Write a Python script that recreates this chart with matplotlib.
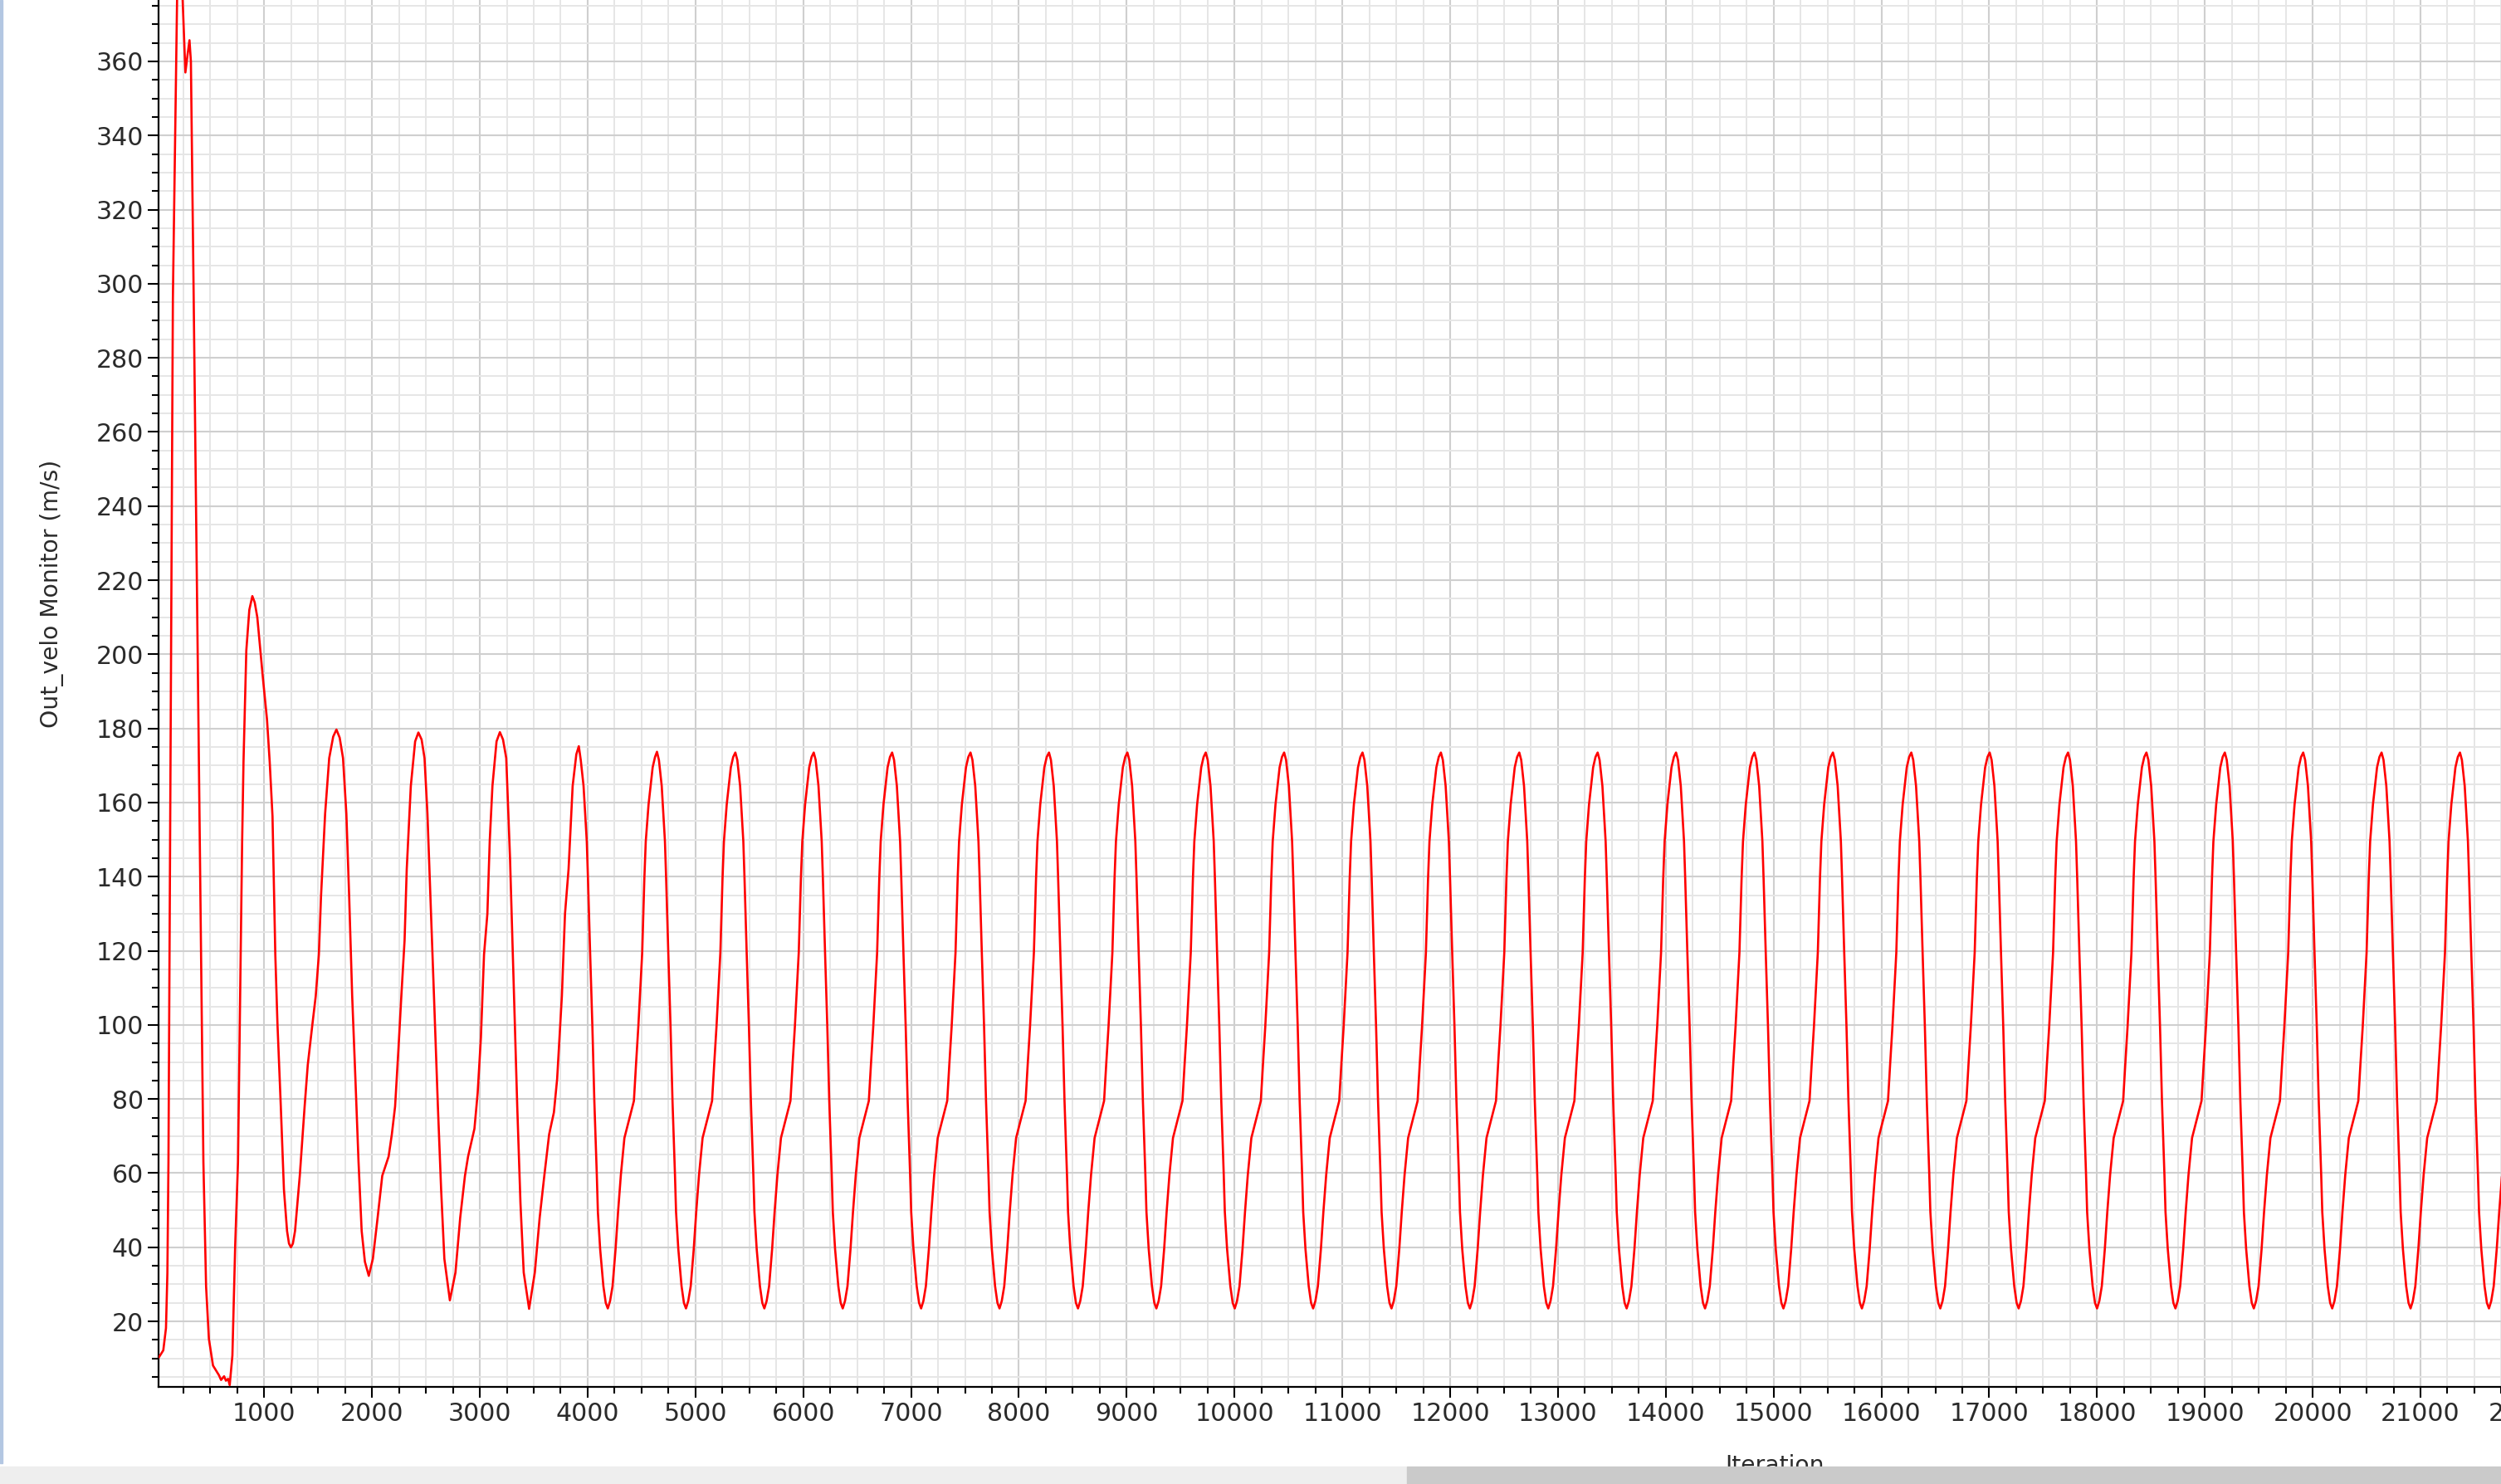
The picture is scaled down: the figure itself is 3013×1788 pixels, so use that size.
import numpy as np
import matplotlib
matplotlib.use('Agg')
import matplotlib.pyplot as plt
from matplotlib.patches import Rectangle
from matplotlib.ticker import MultipleLocator, FuncFormatter

# start-up transient (iteration, m/s)
trans_x = [25, 64, 89, 102, 112, 153, 192, 215, 243, 269, 290, 307, 320, 346,
           436, 461, 487, 525, 580, 600, 628, 645, 665, 680, 705, 731, 757,
           782, 795, 808, 834, 862, 890, 912, 936, 988, 1026, 1051, 1077, 1103, 1123,
           1154, 1183, 1212, 1230, 1248, 1266, 1286, 1330, 1375, 1404, 1448, 1478, 1507,
           1527, 1565, 1603, 1640, 1670, 1700, 1731, 1762, 1788, 1816, 1846, 1875, 1904,
           1934, 1970, 2008, 2052, 2095, 2154, 2184, 2214, 2244, 2272, 2302,
           2322, 2360, 2400, 2430, 2460, 2487, 2514, 2545, 2572, 2611, 2641, 2671, 2722,
           2774, 2818, 2862, 2891, 2950, 2980, 3010, 3039, 3070, 3092, 3117,
           3155, 3186, 3215, 3245, 3280, 3300, 3318, 3347, 3377, 3407, 3457, 3510, 3555,
           3598, 3643, 3687, 3717, 3761, 3790, 3823, 3861, 3895]
trans_y = [10.4, 12.2, 18.2, 33, 63, 296, 377, 395, 377, 357, 362, 365.7, 360, 296,
           63, 29.4, 15.3, 8.1, 5.5, 4.2, 5.2, 4.0, 4.5, 2.8, 10.8, 40.6, 63,
           119, 148.8, 171, 201, 212, 215.7, 214, 210, 193.6, 182.4, 171, 156.3, 119, 100.3,
           78, 55.6, 44.4, 41, 40.0, 41, 44.4, 59.3, 78, 89.2, 100.4, 107.8, 119,
           134.7, 157, 172, 177.8, 179.7, 177.5, 172, 157, 134.7, 107.8, 85.4, 63, 44.4,
           36.1, 32.3, 36.9, 48, 59.3, 64.5, 70.5, 78, 92.9, 107.8, 122.8,
           142, 164.5, 176.5, 178.9, 177, 172, 157, 132, 110, 78, 55.6, 36.9, 25.7,
           33.2, 48, 59.3, 64.5, 72, 81.7, 96.6, 119, 130, 149.7, 164.5,
           176.5, 179, 177, 172, 145, 125, 107.8, 78, 51.8, 33.2, 23.4, 33.2, 48,
           59.3, 70.5, 76.4, 85.4, 107.8, 130, 142, 164.5, 173]

# settled oscillation: peak positions and heights
peak_iter = [3918, 4643, 5370, 6097, 6824, 7551, 8279, 9006, 9733, 10460,
             11187, 11914, 12641, 13368, 14095, 14822, 15550, 16277, 17004,
             17731, 18458, 19185, 19912, 20639, 21366]
peak_val = [175.2, 173.7] + [173.5] * 23

# one cycle after a peak (offset in iterations, value)
cyc_dx = [18, 44, 74, 85, 105, 126, 144, 167, 177, 198, 228, 250, 269, 290, 313,
          341, 364, 390, 423, 467, 511, 531, 552, 570, 588, 608, 621, 647, 685, 707]
cyc_y = [171.5, 164.5, 149.5, 139.5, 119.5, 99.5, 79.5, 59.5, 49.5, 39.5, 29.5, 25.0,
         23.5, 25.5, 29.5, 39.5, 49.5, 59.5, 69.5, 74.5, 79.5, 89.5, 99.5,
         109.5, 119.5, 139.5, 149.5, 159.5, 169.5, 172.3]

x = list(trans_x)
y = list(trans_y)
for p, v in zip(peak_iter, peak_val):
    x += [p] + [p + d for d in cyc_dx]
    y += [v] + cyc_y

W, H = 3013, 1788
fig = plt.figure(figsize=(W / 100, H / 100), dpi=100)
fig.patch.set_facecolor('white')

# axes run past the right/top edge, like the scrolled monitor window
left, bottom_px, right, top_px = 191, 1670.7, 4085, -240
ax = fig.add_axes([left / W, (H - bottom_px) / H, (right - left) / W,
                   (bottom_px - top_px) / H])
ax.set_xlim(20, 30000)
ax.set_ylim(2.4, 430.3)

ax.plot(x, y, color='#ff0000', lw=1.9, zorder=3, solid_joinstyle='round')

ax.xaxis.set_major_locator(MultipleLocator(1000))
ax.xaxis.set_minor_locator(MultipleLocator(250))
ax.yaxis.set_major_locator(MultipleLocator(20))
ax.yaxis.set_minor_locator(MultipleLocator(5))
# only label the ticks that fall inside the visible window
ax.xaxis.set_major_formatter(FuncFormatter(lambda v, pos: '%d' % v if v <= 22000 else ''))
ax.yaxis.set_major_formatter(FuncFormatter(lambda v, pos: '%d' % v if v <= 370 else ''))
ax.grid(which='major', color='#cfcfcf', lw=1.5)
ax.grid(which='minor', color='#e6e6e6', lw=1.4)
ax.set_axisbelow(True)

for s in ['top', 'right']:
    ax.spines[s].set_visible(False)
for s in ['left', 'bottom']:
    ax.spines[s].set_linewidth(1.6)
    ax.spines[s].set_color('black')

ax.tick_params(which='major', direction='out', length=9.4, width=1.5,
               color='black', labelsize=21.6, labelcolor='#2a2a2a', pad=3.5)
ax.tick_params(which='minor', direction='out', length=5.8, width=1.5,
               color='black')

ax.set_ylabel('Out_velo Monitor (m/s)', fontsize=20.3, color='#2a2a2a')
ax.yaxis.set_label_coords((77 - left) / (right - left), 0.5)
ax.set_xlabel('Iteration', fontsize=20.3, color='#2a2a2a')
ax.xaxis.set_label_coords(0.5, -(1752 - bottom_px) / (bottom_px - top_px))

# window chrome: scrollbar at the bottom, frame line at the left
fig.add_artist(Rectangle((0, 0), 1695 / W, 21 / H, transform=fig.transFigure,
                         color='#eeeeee', zorder=10))
fig.add_artist(Rectangle((1695 / W, 0), 1 - 1695 / W, 21 / H,
                         transform=fig.transFigure, color='#cacaca', zorder=10))
fig.add_artist(Rectangle((0, 25 / H), 3 / W, 1 - 25 / H,
                         transform=fig.transFigure, color='#b3c7e2', zorder=10))

fig.savefig('out.png', dpi=100)
